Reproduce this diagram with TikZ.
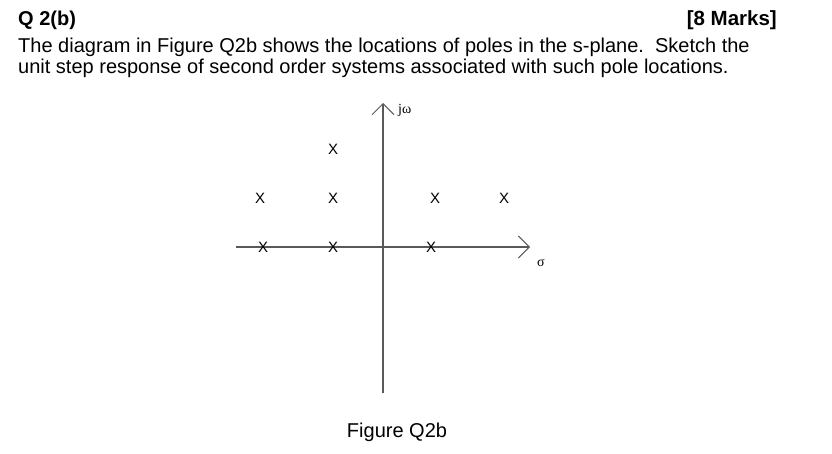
\documentclass[tikz,border=0pt]{standalone}
\usepackage{fontspec}
\setmainfont{Liberation Sans}
\newfontfamily\symfont{Liberation Serif}
\usetikzlibrary{arrows.meta}

\begin{document}
\begin{tikzpicture}[x=1pt, y=-1pt, node distance=49pt,
    axis/.style={draw=black!65, line width=1.2pt, -{Straight Barb[length=11pt, width=22pt, line width=1pt]}},
    pole/.style={font=\fontsize{15}{15}\selectfont, inner sep=0pt},
    body/.style={anchor=base west, inner sep=0pt, font=\fontsize{20}{22}\selectfont}]
    \useasboundingbox (0,0) rectangle (832,454);
    % question text
    \node[body, font=\fontsize{20}{22}\selectfont\bfseries] (qno) at (18,26) {Q 2(b)};
    \node[body, anchor=base east, font=\fontsize{20.5}{22}\selectfont\bfseries] (marks) at (777,26) {[8 Marks]};
    \node[body] (line1) at (18,53) {The diagram in Figure Q2b shows the locations of poles in the s-plane.\ \ Sketch the};
    \node[body] (line2) at (18,74) {unit step response of second order systems associated with such pole locations.};
    % s-plane
    \coordinate (origin) at (383,247);
    \coordinate (sigmaL) at (236,247);
    \coordinate (sigmaR) at (530,247);
    \coordinate (omegaB) at (383,393);
    \coordinate (omegaT) at (383,103);
    \path
    (sigmaL) edge[axis] (sigmaR)
    (omegaB) edge[axis] (omegaT)
    ;
    \node[anchor=west, inner sep=0pt, font=\symfont\fontsize{14}{14}\selectfont] (jw) at (398,110) {jω};
    \node[anchor=west, inner sep=0pt, font=\symfont\fontsize{14}{14}\selectfont] (sigma) at (537,263) {σ};
    % poles
    \node[pole] (re1) at (263,247) {X};
    \node[pole] (re2) at (333,247) {X};
    \node[pole] (re3) at (431,247) {X};
    \node[pole] (cx1) at (260,198) {X};
    \node[pole] (cx2) [above of=re2] {X};
    \node[pole] (cx3) [above of=cx2] {X};
    \node[pole] (cx4) at (435,198) {X};
    \node[pole] (cx5) at (504,198) {X};
    % caption
    \node[body, anchor=base] (caption) at (397,437) {Figure Q2b};
\end{tikzpicture}
\end{document}
